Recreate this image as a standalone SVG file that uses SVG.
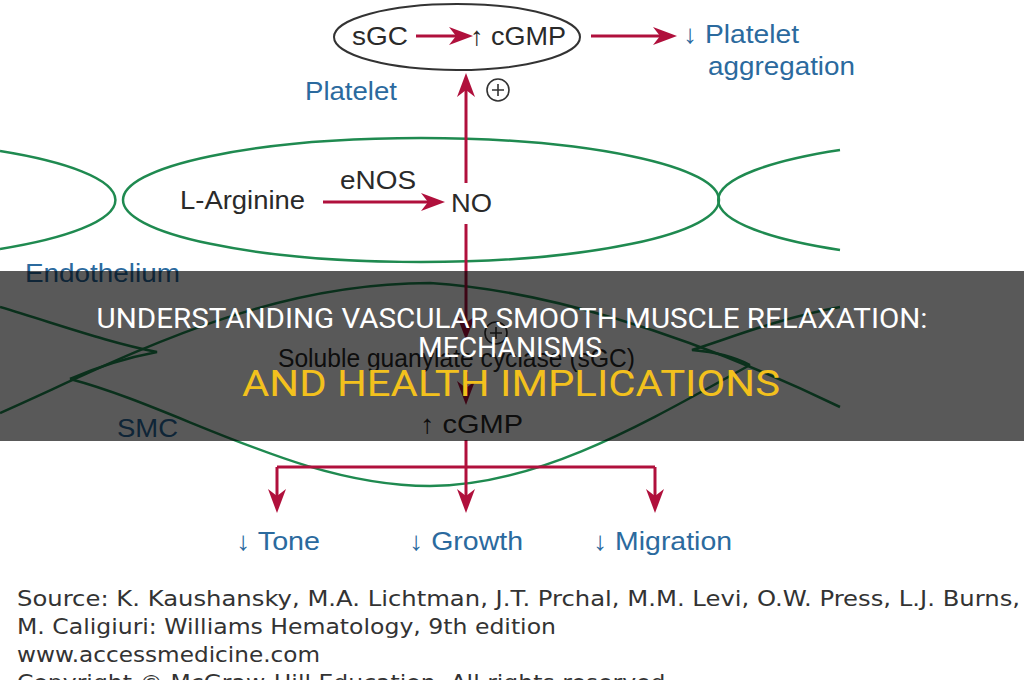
<svg xmlns="http://www.w3.org/2000/svg" width="1024" height="680" viewBox="0 0 1024 680">
<defs>
<style>
.lbl{font-family:"Liberation Sans",Arial,sans-serif;font-size:26px;fill:#2a2a2a}
.blue{font-family:"Liberation Sans",Arial,sans-serif;font-size:26px;fill:#2b6a9e}
.mem{fill:none;stroke:#1f8a50;stroke-width:2.5}
.red{fill:none;stroke:#b0103c;stroke-width:3}
.src{font-family:"DejaVu Sans",Verdana,sans-serif;font-size:21px;fill:#333}
.title{font-family:Roboto,"Open Sans",sans-serif;fill:#fff}
</style>
<marker id="ah" viewBox="0 0 24 18" refX="14" refY="9" markerWidth="24" markerHeight="18" markerUnits="userSpaceOnUse" orient="auto">
<path d="M0,0 L24,9 L0,18 L7,9 z" fill="#b0103c"/>
</marker>
<g id="plus">
<circle cx="0" cy="0" r="11" fill="#fff" stroke="#333" stroke-width="1.6"/>
<path d="M-6,0 H6 M0,-6 V6" stroke="#333" stroke-width="1.6"/>
</g>
</defs>
<rect width="1024" height="680" fill="#fff"/>

<g id="membranes">
<ellipse id="endothelial-cell" cx="421" cy="200" rx="298" ry="62" class="mem"/>
<path class="mem" d="M0,151 A298,62 0 0 1 0,249"/>
<path class="mem" d="M840,150 A298,62 0 0 0 840,250"/>
<path class="mem" d="M0,413 C120,360 260,283 430,283 C540,290 680,330 840,407"/>
<path class="mem" d="M70,379 C180,408 300,486 430,486 C540,486 650,420 750,365"/>
<path class="mem" d="M0,307 C60,325 110,343 157,352 C125,358 95,368 70,379"/>
<path class="mem" d="M840,307 C780,318 730,338 692,350 C715,352 735,357 750,365"/>
</g>

<g id="platelet">
<ellipse cx="457" cy="37" rx="123" ry="33" fill="none" stroke="#333" stroke-width="2"/>
<text class="lbl" x="352" y="45" textLength="56" lengthAdjust="spacingAndGlyphs">sGC</text>
<text class="lbl" x="470" y="45" textLength="96" lengthAdjust="spacingAndGlyphs">↑ cGMP</text>
</g>
<g id="platelet-aggregation">
<text class="blue" x="683" y="43" textLength="116" lengthAdjust="spacingAndGlyphs">↓ Platelet</text>
<text class="blue" x="708" y="75" textLength="147" lengthAdjust="spacingAndGlyphs">aggregation</text>
</g>
<g id="platelet-label"><text class="blue" x="305" y="100" textLength="92" lengthAdjust="spacingAndGlyphs">Platelet</text></g>
<g id="plus-top"><use href="#plus" x="498" y="90"/></g>

<g id="l-arginine"><text class="lbl" x="180" y="209" textLength="125" lengthAdjust="spacingAndGlyphs">L-Arginine</text></g>
<g id="enos"><text class="lbl" x="340" y="189" textLength="76" lengthAdjust="spacingAndGlyphs">eNOS</text></g>
<g id="no"><text class="lbl" x="451" y="212" textLength="41" lengthAdjust="spacingAndGlyphs">NO</text></g>
<g id="endothelium-label"><text class="blue" x="25" y="282" textLength="155" lengthAdjust="spacingAndGlyphs">Endothelium</text></g>

<g id="plus-smc"><use href="#plus" x="496" y="333"/></g>
<g id="sgc"><text class="lbl" x="278" y="367" textLength="357" lengthAdjust="spacingAndGlyphs">Soluble guanylate cyclase (sGC)</text></g>
<g id="cgmp"><text class="lbl" x="420" y="433" textLength="103" lengthAdjust="spacingAndGlyphs">↑ cGMP</text></g>
<g id="smc-label"><text class="blue" x="117" y="437" textLength="61" lengthAdjust="spacingAndGlyphs">SMC</text></g>

<g id="connectors">
<path class="red" d="M416,36 H463" marker-end="url(#ah)"/>
<path class="red" d="M591,36 H667" marker-end="url(#ah)"/>
<path class="red" d="M323,202 H435" marker-end="url(#ah)"/>
<path class="red" d="M466,183 V83" marker-end="url(#ah)"/>
<path class="red" d="M466,224 V330" marker-end="url(#ah)"/>
<path class="red" d="M466,372 V395" marker-end="url(#ah)"/>
<path class="red" d="M466,440 V503" marker-end="url(#ah)"/>
<path class="red" d="M277,467 H655"/>
<path class="red" d="M277,467 V503" marker-end="url(#ah)"/>
<path class="red" d="M655,467 V503" marker-end="url(#ah)"/>
</g>

<g id="tone"><text class="blue" x="236" y="550" font-size="27" textLength="84" lengthAdjust="spacingAndGlyphs">↓ Tone</text></g>
<g id="growth"><text class="blue" x="409" y="550" font-size="27" textLength="114" lengthAdjust="spacingAndGlyphs">↓ Growth</text></g>
<g id="migration"><text class="blue" x="593" y="550" font-size="27" textLength="139" lengthAdjust="spacingAndGlyphs">↓ Migration</text></g>

<g id="source">
<text class="src" x="17" y="606" textLength="1003" lengthAdjust="spacingAndGlyphs">Source: K. Kaushansky, M.A. Lichtman, J.T. Prchal, M.M. Levi, O.W. Press, L.J. Burns,</text>
<text class="src" x="17" y="634" textLength="539" lengthAdjust="spacingAndGlyphs">M. Caligiuri: Williams Hematology, 9th edition</text>
<text class="src" x="17" y="662" textLength="303" lengthAdjust="spacingAndGlyphs">www.accessmedicine.com</text>
<text class="src" x="17" y="690" textLength="656" lengthAdjust="spacingAndGlyphs">Copyright © McGraw-Hill Education.  All rights reserved.</text>
</g>

<rect x="0" y="271" width="1024" height="170" fill="#000" fill-opacity="0.65"/>
<g id="title">
<text class="title" x="512" y="328" font-size="27" text-anchor="middle" textLength="831" lengthAdjust="spacingAndGlyphs">UNDERSTANDING VASCULAR SMOOTH MUSCLE RELAXATION:</text>
<text class="title" x="510" y="357" font-size="27" text-anchor="middle" textLength="184" lengthAdjust="spacingAndGlyphs">MECHANISMS</text>
<text class="title" x="511" y="396" font-size="37" text-anchor="middle" fill="#f3c11d" style="fill:#f3c11d" textLength="538" lengthAdjust="spacingAndGlyphs">AND HEALTH IMPLICATIONS</text>
</g>
</svg>
